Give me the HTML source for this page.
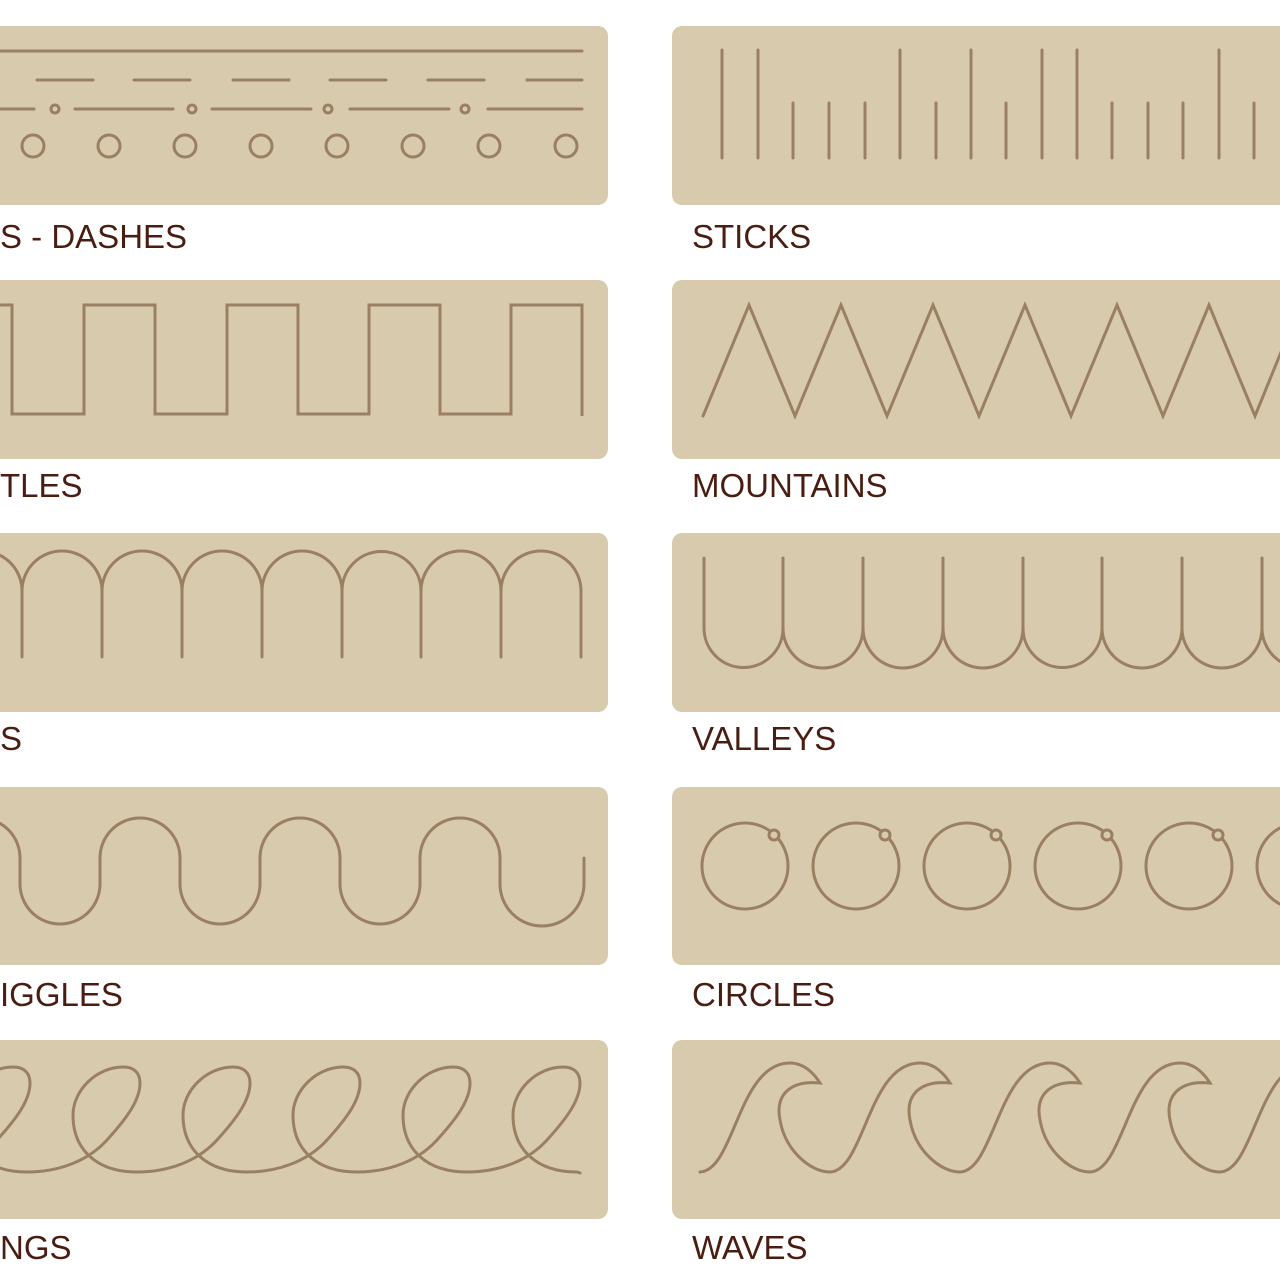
<!DOCTYPE html>
<html><head><meta charset="utf-8"><style>
html,body{margin:0;padding:0;background:#fff;}
svg{display:block}
text{font-family:"Liberation Sans",sans-serif;font-size:33px;fill:#4a1d12;}
</style></head><body>
<svg width="1280" height="1280" viewBox="0 0 1280 1280" xmlns="http://www.w3.org/2000/svg">
<g fill="#d8cbad">
<rect x="-20" y="26" width="628" height="179" rx="10"/>
<rect x="-20" y="280" width="628" height="179" rx="10"/>
<rect x="-20" y="533" width="628" height="179" rx="10"/>
<rect x="-20" y="787" width="628" height="178" rx="10"/>
<rect x="-20" y="1040" width="628" height="179" rx="10"/>
<rect x="672" y="26" width="628" height="179" rx="10"/>
<rect x="672" y="280" width="628" height="179" rx="10"/>
<rect x="672" y="533" width="628" height="179" rx="10"/>
<rect x="672" y="787" width="628" height="178" rx="10"/>
<rect x="672" y="1040" width="628" height="179" rx="10"/>
</g>
<g fill="none" stroke="#9a7f62" stroke-width="3" stroke-linecap="round" stroke-linejoin="miter">
<path d="M0 51H582"/>
<path d="M37 80H93M134 80H190M233 80H289M330 80H386M428 80H484M527 80H582"/>
<path d="M0 109H34M75 109H173M212 109H311M350 109H449M488 109H582"/>
<circle cx="55" cy="109" r="4"/><circle cx="192" cy="109" r="4"/><circle cx="328" cy="109" r="4"/><circle cx="465" cy="109" r="4"/>
<circle cx="33" cy="146" r="11"/><circle cx="109" cy="146" r="11"/><circle cx="185" cy="146" r="11"/><circle cx="261" cy="146" r="11"/><circle cx="337" cy="146" r="11"/><circle cx="413" cy="146" r="11"/><circle cx="489" cy="146" r="11"/><circle cx="566" cy="146" r="11"/>
<path d="M722 50V158M758 50V158M793 103V158M829 103V158M865 103V158M900 50V158M936 103V158M971 50V158M1006 103V158M1042 50V158M1077 50V158M1112 103V158M1148 103V158M1183 103V158M1219 50V158M1254 103V158"/>
<path d="M0 305H12V414H84V305H155V414H227V305H298V414H369V305H440V414H511V305H582V416" stroke-linecap="butt"/>
<path d="M703 416L749 305L795 416L841 305L887 416L933 305L979 416L1025 305L1071 416L1117 305L1163 416L1209 305L1255 416L1290 330"/>
<path d="M-58 591A30 30 0 0 1 22 591V657M22 591A30 30 0 0 1 102 591V657M102 591A30 30 0 0 1 182 591V657M182 591A30 30 0 0 1 262 591V657M262 591A30 30 0 0 1 342 591V657M342 591A30 30 0 0 1 421 591V657M421 591A30 30 0 0 1 501 591V657M501 591A30 30 0 0 1 581 591V657"/>
<path d="M704 558V628A30 30 0 0 0 783 628M783 558V628A30 30 0 0 0 863 628M863 558V628A30 30 0 0 0 943 628M943 558V628A30 30 0 0 0 1023 628M1023 558V628A30 30 0 0 0 1102 628M1102 558V628A30 30 0 0 0 1182 628M1182 558V628A30 30 0 0 0 1262 628M1262 558V628A30 30 0 0 0 1342 628"/>
<path d="M-60 884V858A40 40 0 0 1 20 858V884A40 40 0 0 0 100 884V858A40 40 0 0 1 180 858V884A40 40 0 0 0 260 884V858A40 40 0 0 1 340 858V884A40 40 0 0 0 420 884V858A40 40 0 0 1 500 858V884A42 42 0 0 0 584 884V858"/>
<circle cx="745" cy="866" r="43"/><circle cx="856" cy="866" r="43"/><circle cx="967" cy="866" r="43"/><circle cx="1078" cy="866" r="43"/><circle cx="1189" cy="866" r="43"/><circle cx="1300" cy="866" r="43"/>
<g fill="#d8cbad"><circle cx="774" cy="835" r="5"/><circle cx="885" cy="835" r="5"/><circle cx="996" cy="835" r="5"/><circle cx="1107" cy="835" r="5"/><circle cx="1218" cy="835" r="5"/></g>
<g id="lp"><path d="M-83 1172C-53 1172 -23 1162 -3 1140C17 1118 30 1100 30 1083C30 1072 23 1067 13 1067C-13 1067 -37 1090 -37 1115C-37 1150 -13 1172 27 1172"/></g>
<use href="#lp" transform="translate(110 0)"/>
<use href="#lp" transform="translate(220 0)"/>
<use href="#lp" transform="translate(330 0)"/>
<use href="#lp" transform="translate(440 0)"/>
<use href="#lp" transform="translate(550 0)"/>
<path d="M577 1172L580 1173"/>
<g id="wv"><path d="M700 1172C735 1170 738 1063 790 1063C805 1063 815 1075 820 1083C790 1080 775 1095 780 1120C785 1150 810 1172 830 1172"/></g>
<use href="#wv" transform="translate(130 0)"/>
<use href="#wv" transform="translate(260 0)"/>
<use href="#wv" transform="translate(390 0)"/>
<use href="#wv" transform="translate(520 0)"/>
</g>
<text x="0" y="248">S - DASHES</text>
<text x="0" y="497">TLES</text>
<text x="0" y="750">S</text>
<text x="0" y="1006">IGGLES</text>
<text x="0" y="1259">NGS</text>
<text x="692" y="248">STICKS</text>
<text x="692" y="497">MOUNTAINS</text>
<text x="692" y="750">VALLEYS</text>
<text x="692" y="1006">CIRCLES</text>
<text x="692" y="1259">WAVES</text>
</svg>
</body></html>
